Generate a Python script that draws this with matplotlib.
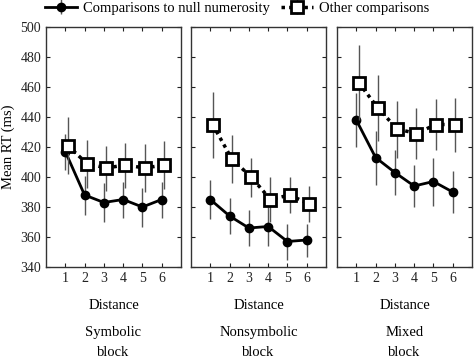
import matplotlib.pyplot as plt
from matplotlib.ticker import MultipleLocator

plt.rcParams['font.family'] = 'Liberation Serif'

distance = [1, 2, 3, 4, 5, 6]
blocks = ['Symbolic\nblock', 'Nonsymbolic\nblock', 'Mixed\nblock']

# Comparisons to null numerosity (mean RT, ms) and error half-widths
null_rt = [
    [417, 388, 383, 385, 380, 385],
    [385, 374, 366, 367, 357, 358],
    [438, 413, 403, 394, 397, 390],
]
null_err = [
    [12, 13, 13, 12, 13, 12],
    [13, 12, 12, 13, 12, 11],
    [18, 18, 15, 14, 16, 14],
]

# Other comparisons
other_rt = [
    [421, 409, 406, 408, 406, 408],
    [435, 412, 400, 385, 388, 382],
    [463, 446, 432, 429, 435, 435],
]
other_err = [
    [19, 16, 15, 15, 16, 16],
    [22, 16, 13, 15, 12, 12],
    [25, 22, 19, 17, 17, 18],
]

fig = plt.figure(figsize=(4.74, 3.58), dpi=100)
lefts = [46, 191, 337]
width = 135
bottom_px, top_px = 267, 27
W, H = 474, 358

axes = []
for i in range(3):
    ax = fig.add_axes([lefts[i] / W, 1 - bottom_px / H, width / W, (bottom_px - top_px) / H])
    axes.append(ax)
    x_other = [d + 0.12 for d in distance]
    h1 = ax.errorbar(distance, null_rt[i], yerr=null_err[i], color='black', lw=2,
                     marker='o', ms=6, ecolor='#555555', elinewidth=1, capsize=0, zorder=3)
    h2 = ax.errorbar(x_other, other_rt[i], yerr=other_err[i], color='black', lw=2.5,
                     ls=(0, (1, 1.2)), marker='s', ms=9, mfc='white', mec='black', mew=2,
                     ecolor='#555555', elinewidth=1, capsize=0, zorder=4)
    ax.set_xlim(0, 7)
    ax.set_ylim(340, 500)
    ax.set_xticks(distance)
    ax.yaxis.set_major_locator(MultipleLocator(20))
    ax.tick_params(direction='in', top=True, right=True, length=3, width=0.8,
                   labelsize=10, colors='#222222')
    for s in ax.spines.values():
        s.set_linewidth(1)
        s.set_color('#333333')
    if i > 0:
        ax.tick_params(labelleft=False)
    else:
        ax.set_ylabel('Mean RT (ms)', fontsize=10.5)
    ax.set_xlabel('Distance', fontsize=10.5, labelpad=10)
    ax.text(0.5, -0.245, blocks[i], transform=ax.transAxes, ha='center', va='top',
            fontsize=10.5, linespacing=1.75)

fig.legend([h1, h2], ['Comparisons to null numerosity', 'Other comparisons'],
           loc='center', bbox_to_anchor=(0.5, 1 - 8 / H), ncol=2, frameon=False,
           fontsize=10.5, handlelength=2.2, handletextpad=0.4, columnspacing=0.8,
           borderaxespad=0)

fig.savefig('out.png', dpi=100)
